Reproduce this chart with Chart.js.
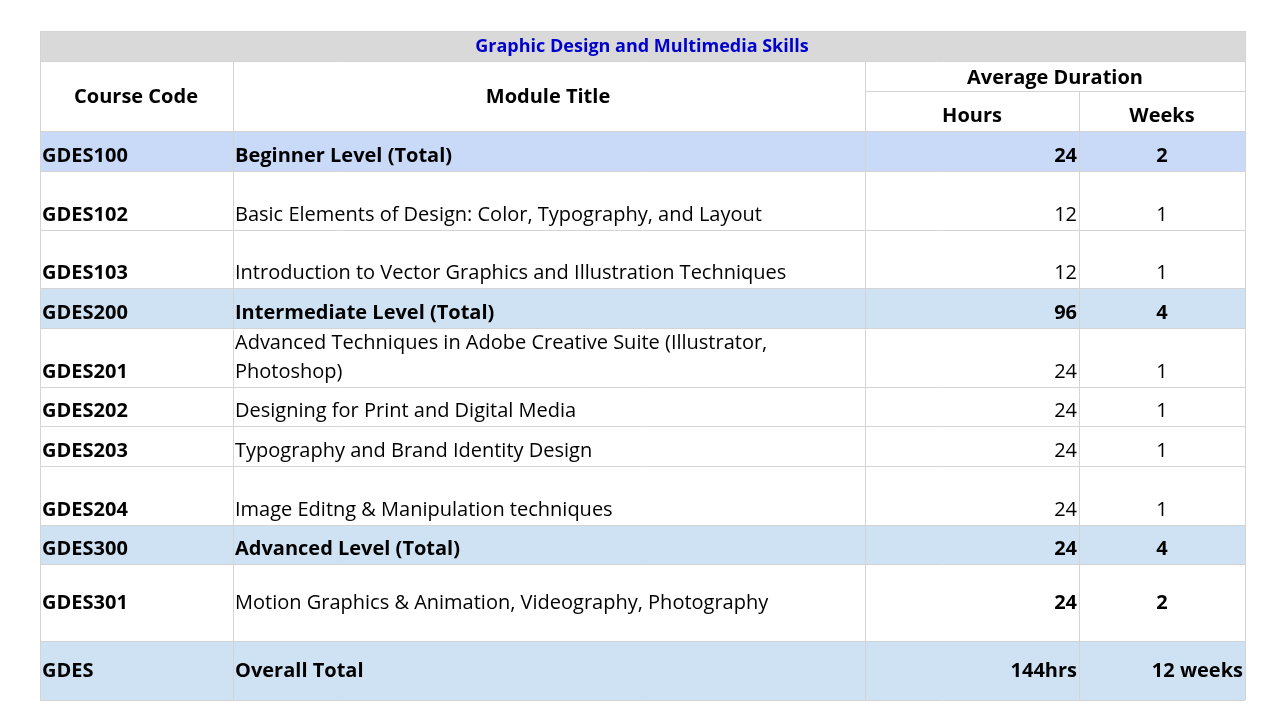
<!DOCTYPE html>
<html><head><meta charset="utf-8">
<script src="https://cdn.jsdelivr.net/npm/chart.js@4"></script>
<style>html,body{margin:0;padding:0;background:#fff}canvas{display:block}</style>
</head><body>
<canvas id="c" width="1280" height="720"></canvas>
<script>
const tableTitle = "Graphic Design and Multimedia Skills";
const headers = ["Course Code", "Module Title", "Average Duration", "Hours", "Weeks"];
const codes = ["GDES100","GDES102","GDES103","GDES200","GDES201","GDES202","GDES203","GDES204","GDES300","GDES301","GDES"];
const titles = ["Beginner Level (Total)",
 "Basic Elements of Design: Color, Typography, and Layout",
 "Introduction to Vector Graphics and Illustration Techniques",
 "Intermediate Level (Total)",
 "Advanced Techniques in Adobe Creative Suite (Illustrator,\nPhotoshop)",
 "Designing for Print and Digital Media",
 "Typography and Brand Identity Design",
 "Image Editng & Manipulation techniques",
 "Advanced Level (Total)",
 "Motion Graphics & Animation, Videography, Photography",
 "Overall Total"];
const hours = ["24","12","12","96","24","24","24","24","24","24","144hrs"];
const weeks = ["2","1","1","4","1","1","1","1","4","2","12 weeks"];
const rowKind = ["total","item","item","total","item","item","item","item","total","itemBoldNums","grand"];

// layout (pixel-space values mapped through the chart's scales)
const colX = [40, 233, 865, 1079, 1245];
const rowEdges = [131,171,230,288,328,387,426,466,525,564,641,700];
const FONT = "'Open Sans', Lato, sans-serif";
const FS = 20;

const tablePlugin = {
  id: 'table',
  afterDraw(chart) {
    const ctx = chart.ctx, xs = chart.scales.x, ys = chart.scales.y;
    const X = v => xs.getPixelForValue(v), Y = v => ys.getPixelForValue(v);
    ctx.save();
    ctx.fillStyle = '#d9d9d9';
    ctx.fillRect(X(40), Y(31), X(1245)-X(40), Y(61)-Y(31));
    rowKind.forEach((k, i) => {
      if (k === 'item' || k === 'itemBoldNums') return;
      ctx.fillStyle = i === 0 ? '#c9daf8' : '#cfe2f3';
      ctx.fillRect(X(40), Y(rowEdges[i]), X(1245)-X(40), Y(rowEdges[i+1])-Y(rowEdges[i]));
    });
    ctx.strokeStyle = '#d4d4d4'; ctx.lineWidth = 1;
    const hl = (x1,x2,y) => {ctx.beginPath();ctx.moveTo(X(x1),Y(y)+0.5);ctx.lineTo(X(x2),Y(y)+0.5);ctx.stroke();};
    const vl = (x,y1,y2) => {ctx.beginPath();ctx.moveTo(X(x)+0.5,Y(y1));ctx.lineTo(X(x)+0.5,Y(y2));ctx.stroke();};
    hl(40,1245,31); hl(40,1245,61); hl(865,1245,91);
    rowEdges.forEach(y => hl(40,1245,y));
    vl(40,31,700); vl(1245,31,700);
    vl(233,61,700); vl(865,61,700); vl(1079,91,700);
    ctx.fillStyle = '#0000cc';
    ctx.font = `bold 18px ${FONT}`; ctx.textAlign='center'; ctx.textBaseline='middle';
    ctx.fillText(tableTitle, X(642), Y(47));
    ctx.fillStyle = '#000';
    ctx.font = `bold ${FS}px ${FONT}`;
    ctx.fillText(headers[0], X(136), Y(97));
    ctx.fillText(headers[1], X(548), Y(97));
    ctx.fillText(headers[2], X(1055), Y(78));
    ctx.fillText(headers[3], X(972), Y(116));
    ctx.fillText(headers[4], X(1162), Y(116));
    codes.forEach((c, i) => {
      const k = rowKind[i];
      const bot = rowEdges[i+1];
      const cy = (k === 'itemBoldNums' || k === 'grand') ? (k==='grand' ? bot-29 : bot-38) : bot-15;
      const boldTitle = k === 'total' || k === 'grand';
      const boldNum = k !== 'item';
      ctx.textAlign = 'left';
      ctx.font = `bold ${FS}px ${FONT}`;
      ctx.fillText(c, X(42), Y(cy));
      ctx.font = `${boldTitle?'bold ':''}${FS}px ${FONT}`;
      const lines = titles[i].split('\n');
      lines.forEach((l, j) => ctx.fillText(l, X(235), Y(cy - (lines.length-1-j)*29)));
      ctx.font = `${boldNum?'bold ':''}${FS}px ${FONT}`;
      ctx.textAlign = 'right';
      ctx.fillText(hours[i], X(1077), Y(cy));
      if (k === 'grand') { ctx.textAlign='right'; ctx.fillText(weeks[i], X(1243), Y(cy)); }
      else { ctx.textAlign='center'; ctx.fillText(weeks[i], X(1162), Y(cy)); }
    });
    ctx.restore();
  }
};

new Chart(document.getElementById('c'), {
  type: 'scatter',
  data: { datasets: [{ data: [] }] },
  options: {
    responsive: false, animation: false,
    layout: { padding: 0 },
    plugins: { legend: { display: false }, tooltip: { enabled: false } },
    scales: {
      x: { type: 'linear', min: 0, max: 1280, display: false },
      y: { type: 'linear', min: 0, max: 720, reverse: true, display: false }
    }
  },
  plugins: [tablePlugin]
});
</script>
</body></html>
